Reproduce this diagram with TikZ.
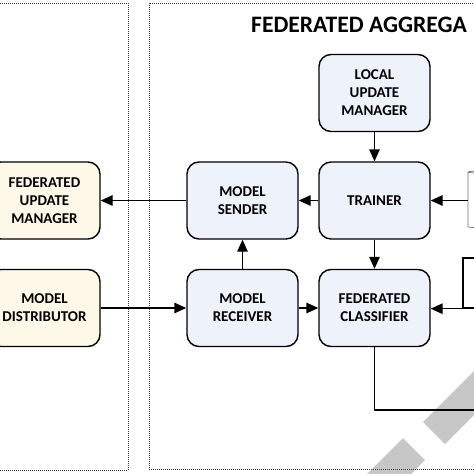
\documentclass[tikz,border=0pt]{standalone}
\usepackage{fontspec}
\setmainfont{Carlito}
\usetikzlibrary{shapes,shapes.geometric,positioning}
\usetikzlibrary{arrows.meta}
\usetikzlibrary{calc}

\definecolor{boxblue}{RGB}{238,242,250}
\definecolor{boxcream}{RGB}{253,248,232}
\definecolor{framegray}{RGB}{60,60,60}

\begin{document}
\begin{tikzpicture}[x=1pt,y=-1pt,
  unit/.style={draw,line width=1.4pt,rounded corners=12pt,fill=boxblue,
     minimum width=111pt,minimum height=77pt,align=center,
     font=\fontsize{15}{18}\selectfont\bfseries},
  remote/.style={unit,fill=boxcream},
  frame/.style={draw=framegray,densely dotted,line width=1pt},
  flow/.style={line width=1.4pt,-{Triangle[length=12pt,width=10.5pt]}},
  wire/.style={line width=1.4pt}]

\useasboundingbox (0,0) rectangle (474,474);
\clip (0,0) rectangle (474,474);

% watermark
\fill[black!22] (403,438) -- (425,460) -- (385,500) -- (363,478) -- cycle;
\fill[black!22] (423,422) -- (445,444) -- (525,364) -- (503,342) -- cycle;

% frames
\draw[frame] (-5,3) rectangle (128,470);
\draw[frame] (149,3) rectangle (490,469);
\node[anchor=base west,inner sep=0pt,font=\fontsize{23.6}{27}\selectfont\bfseries]
  (title) at (251,32) {FEDERATED AGGREGA};

\node[unit]   (lum)  at (374.5, 93.0) {LOCAL\\UPDATE\\MANAGER};
\node[unit]   (trn)  at (374.5,200.5) {TRAINER};
\node[unit]   (snd)  at (242.5,200.5) {MODEL\\SENDER};
\node[remote] (fum)  at ( 44.5,200.5) {FEDERATED\\UPDATE\\MANAGER};
\node[remote] (dist) at ( 44.5,308.0) {MODEL\\DISTRIBUTOR};
\node[unit]   (rcv)  at (242.5,308.0) {MODEL\\RECEIVER};
\node[unit]   (cls)  at (374.5,308.0) {FEDERATED\\CLASSIFIER};

\node[cylinder,shape border rotate=90,draw=black!55,line width=0.7pt,fill=white,
  minimum width=34pt,minimum height=57pt,aspect=0.35] (db) at (485,200.5) {};
\node[draw,line width=1.4pt,minimum width=40pt,minimum height=50pt] (store) at (483,283) {};
\coordinate (out) at (490,410);

\draw[flow] (lum) -- (trn);
\draw[flow] (trn) -- (snd);
\draw[flow] (snd) -- (fum);
\draw[flow] (rcv) -- (snd);
\draw[flow] (dist) -- (rcv);
\draw[flow] (rcv) -- (cls);
\draw[flow] (trn) -- (cls);
\draw[flow] (db) -- (trn);
\draw[flow] (store.south west) -- (store.south west -| cls.east);
\draw[wire] (cls.south) |- (out);

\end{tikzpicture}
\end{document}
